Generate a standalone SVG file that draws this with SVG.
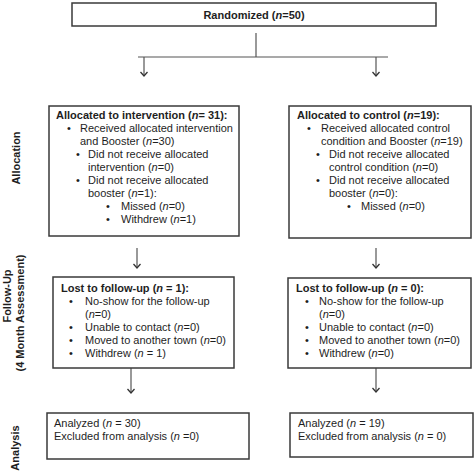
<svg xmlns="http://www.w3.org/2000/svg" width="474" height="471" viewBox="0 0 474 471">
<style>
text{font-family:"Liberation Sans",Arial,sans-serif;font-size:11px;fill:#1e1e1e}
.b{font-weight:bold}
.i{font-style:italic}
.box{fill:#fff;stroke:#3a3a3a;stroke-width:1.5}
.c line{stroke:#555;stroke-width:1.2;fill:none}
.c .a{marker-end:url(#ah)}
</style>
<defs>
<marker id="ah" markerWidth="10" markerHeight="10" refX="7" refY="5" markerUnits="userSpaceOnUse" orient="auto" viewBox="0 0 10 10">
<polyline points="3,1.5 7,5 3,8.5" fill="none" stroke="#333" stroke-width="1.3"/>
</marker>
</defs>
<rect width="474" height="471" fill="#fff"/>

<g id="labels">
<text class="b" transform="translate(20,158) rotate(-90)" text-anchor="middle">Allocation</text>
<text class="b" transform="translate(11,296) rotate(-90)" text-anchor="middle">Follow-Up</text>
<text class="b" transform="translate(24,313) rotate(-90)" text-anchor="middle">(4 Month Assessment)</text>
<text class="b" transform="translate(19,448) rotate(-90)" text-anchor="middle">Analysis</text>
</g>

<g class="c" id="connectors">
<line x1="256" y1="33" x2="256" y2="57"/>
<line x1="138" y1="57" x2="388" y2="57"/>
<line class="a" x1="144" y1="57" x2="144" y2="76"/>
<line class="a" x1="376" y1="57" x2="376" y2="76"/>
<line class="a" x1="137" y1="248" x2="137" y2="268"/>
<line class="a" x1="376" y1="248" x2="376" y2="268"/>
<line class="a" x1="131" y1="368" x2="131" y2="393"/>
<line class="a" x1="376" y1="368" x2="376" y2="392"/>
</g>

<g id="randomized">
<rect class="box" x="72" y="3" width="364" height="23"/>
<text class="b" x="254" y="19" text-anchor="middle">Randomized (<tspan class="i">n</tspan>=50)</text>
</g>

<g id="alloc-intervention">
<rect class="box" x="49" y="106" width="190" height="130"/>
<text class="b" x="56" y="119">Allocated to intervention (<tspan class="i">n</tspan>= 31):</text>
<text x="67" y="132">•</text><text x="80" y="132">Received allocated intervention</text>
<text x="80" y="145">and Booster (<tspan class="i">n</tspan>=30)</text>
<text x="76" y="158">•</text><text x="88" y="158">Did not receive allocated</text>
<text x="88" y="171">intervention (<tspan class="i">n</tspan>=0)</text>
<text x="76" y="184">•</text><text x="88" y="184">Did not receive allocated</text>
<text x="88" y="197">booster (<tspan class="i">n</tspan>=1):</text>
<text x="106" y="210">•</text><text x="121" y="210">Missed (<tspan class="i">n</tspan>=0)</text>
<text x="106" y="223">•</text><text x="121" y="223">Withdrew (<tspan class="i">n</tspan>=1)</text>
</g>

<g id="alloc-control">
<rect class="box" x="289" y="106" width="182" height="132"/>
<text class="b" x="297" y="119">Allocated to control (<tspan class="i">n</tspan>=19):</text>
<text x="307" y="132">•</text><text x="321" y="132">Received allocated control</text>
<text x="321" y="145">condition and Booster (<tspan class="i">n</tspan>=19)</text>
<text x="316" y="158">•</text><text x="329" y="158">Did not receive allocated</text>
<text x="329" y="171">control condition (<tspan class="i">n</tspan>=0)</text>
<text x="316" y="184">•</text><text x="329" y="184">Did not receive allocated</text>
<text x="329" y="197">booster (<tspan class="i">n</tspan>=0):</text>
<text x="347" y="210">•</text><text x="361" y="210">Missed (<tspan class="i">n</tspan>=0)</text>
</g>

<g id="followup-intervention">
<rect class="box" x="53" y="277" width="181" height="91"/>
<text class="b" x="61" y="292">Lost to follow-up (<tspan class="i">n</tspan> = 1):</text>
<text x="69" y="305">•</text><text x="85" y="305">No-show for the follow-up</text>
<text x="85" y="318">(<tspan class="i">n</tspan>=0)</text>
<text x="69" y="331">•</text><text x="85" y="331">Unable to contact (<tspan class="i">n</tspan>=0)</text>
<text x="69" y="344">•</text><text x="85" y="344">Moved to another town (<tspan class="i">n</tspan>=0)</text>
<text x="69" y="357">•</text><text x="85" y="357">Withdrew (<tspan class="i">n</tspan> = 1)</text>
</g>

<g id="followup-control">
<rect class="box" x="288" y="278" width="183" height="90"/>
<text class="b" x="296" y="292">Lost to follow-up (<tspan class="i">n</tspan> = 0):</text>
<text x="305" y="305">•</text><text x="319" y="305">No-show for the follow-up</text>
<text x="319" y="318">(<tspan class="i">n</tspan>=0)</text>
<text x="305" y="331">•</text><text x="319" y="331">Unable to contact (<tspan class="i">n</tspan>=0)</text>
<text x="305" y="344">•</text><text x="319" y="344">Moved to another town (<tspan class="i">n</tspan>=0)</text>
<text x="305" y="357">•</text><text x="319" y="357">Withdrew (<tspan class="i">n</tspan>=0)</text>
</g>

<g id="analysis-intervention">
<rect class="box" x="47" y="413" width="202" height="46"/>
<text x="54" y="427">Analyzed (<tspan class="i">n</tspan> = 30)</text>
<text x="54" y="440">Excluded from analysis (<tspan class="i">n</tspan> =0)</text>
</g>

<g id="analysis-control">
<rect class="box" x="290" y="413" width="183" height="44"/>
<text x="298" y="427">Analyzed (<tspan class="i">n</tspan> = 19)</text>
<text x="298" y="440">Excluded from analysis (<tspan class="i">n</tspan> = 0)</text>
</g>
</svg>
